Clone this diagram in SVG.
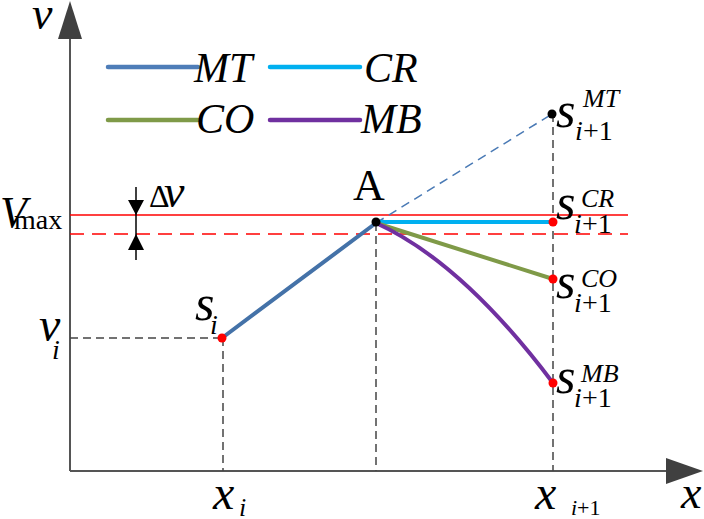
<svg xmlns="http://www.w3.org/2000/svg" width="704" height="519" viewBox="0 0 704 519">
<style>
.t{font-family:"Liberation Serif","Times New Roman",serif;fill:#000}
.it{font-style:italic}
.axis{stroke:#555;stroke-width:2;fill:none}
.guide{stroke:#444;stroke-width:1.5;stroke-dasharray:8 5;fill:none}
.leg{stroke-width:4.5;stroke-linecap:round;fill:none}
.data{stroke-width:4;fill:none;stroke-linecap:round}
.red{fill:#ff0000}
</style>
<rect width="704" height="519" fill="#fff"/>
<g id="axes">
  <line class="axis" x1="70" y1="471" x2="70" y2="36"/>
  <polygon points="70,1 58,39 82,39" fill="#404040"/>
  <line class="axis" x1="70" y1="471" x2="668" y2="471"/>
  <polygon points="703,471 666,458 666,484" fill="#404040"/>
  <text class="t it" x="32" y="29" font-size="46">v</text>
  <text class="t it" x="681" y="508" font-size="46">x</text>
</g>
<g id="legend">
  <line class="leg" x1="108" y1="67" x2="198" y2="67" stroke="#4e7db8"/>
  <text class="t it" x="194" y="82" font-size="42">MT</text>
  <line class="leg" x1="270" y1="67" x2="360" y2="67" stroke="#00b0f0"/>
  <text class="t it" x="364" y="82" font-size="42">CR</text>
  <line class="leg" x1="108" y1="120" x2="198" y2="120" stroke="#7f9a48"/>
  <text class="t it" x="196" y="133" font-size="42">CO</text>
  <line class="leg" x1="270" y1="120" x2="360" y2="120" stroke="#7030a0"/>
  <text class="t it" x="361" y="133" font-size="42">MB</text>
</g>
<g id="guides">
  <line class="guide" x1="70" y1="338" x2="222" y2="338"/>
  <line class="guide" x1="223" y1="338" x2="223" y2="471"/>
  <line class="guide" x1="376" y1="223" x2="376" y2="471"/>
  <line class="guide" x1="553" y1="114" x2="553" y2="471"/>
</g>
<g id="vmax">
  <line x1="70" y1="215" x2="628" y2="215" stroke="#ff0000" stroke-width="1.5"/>
  <line x1="70" y1="234" x2="628" y2="234" stroke="#ff0000" stroke-width="1.5" stroke-dasharray="14 8"/>
  <text class="t it" x="0" y="227" font-size="44">V</text>
  <text class="t" x="14" y="229" font-size="28">max</text>
</g>
<g id="deltav">
  <line x1="136" y1="187" x2="136" y2="260" stroke="#000" stroke-width="1.5"/>
  <polygon points="136,215 128,200 144,200" fill="#000"/>
  <polygon points="136,234 128,250 144,250" fill="#000"/>
  <text class="t" x="149" y="207" font-size="32">Δ</text>
  <text class="t it" x="164" y="207" font-size="46">v</text>
</g>
<g id="connectors">
  <line class="data" x1="222" y1="338" x2="376" y2="223" stroke="#4472a8"/>
  <line x1="376" y1="223" x2="552" y2="114" stroke="#4a7ab5" stroke-width="1.5" stroke-dasharray="9 6"/>
  <line class="data" x1="376" y1="222" x2="553" y2="222" stroke="#00b0f0"/>
  <line class="data" x1="376" y1="223" x2="553" y2="279" stroke="#7f9a48"/>
  <path class="data" d="M376,223 Q462,262 553,383" stroke="#7030a0"/>
</g>
<g id="node-si">
  <circle cx="222" cy="338" r="4.5" class="red"/>
  <text class="t it" x="195" y="320" font-size="50">s</text>
  <text class="t it" x="210" y="334" font-size="28">i</text>
</g>
<g id="node-vi">
  <text class="t it" x="39" y="341" font-size="48">v</text>
  <text class="t it" x="52" y="359" font-size="28">i</text>
</g>
<g id="node-A">
  <circle cx="376" cy="222" r="4.5" fill="#000"/>
  <text class="t" x="353" y="200" font-size="44">A</text>
</g>
<g id="node-MT">
  <circle cx="552" cy="114" r="4.5" fill="#000"/>
  <text class="t it" x="556" y="127" font-size="50">s</text>
  <text class="t it" x="583" y="107" font-size="26">MT</text>
  <text class="t it" x="575" y="140" font-size="28">i</text>
  <text class="t" x="583" y="140" font-size="28">+1</text>
</g>
<g id="node-CR">
  <circle cx="553" cy="222" r="4.5" class="red"/>
  <text class="t it" x="556" y="219" font-size="50">s</text>
  <text class="t it" x="581" y="207" font-size="26">CR</text>
  <text class="t it" x="574" y="233" font-size="28">i</text>
  <text class="t" x="582" y="233" font-size="28">+1</text>
</g>
<g id="node-CO">
  <circle cx="553" cy="279" r="4.5" class="red"/>
  <text class="t it" x="556" y="298" font-size="50">s</text>
  <text class="t it" x="581" y="287" font-size="26">CO</text>
  <text class="t it" x="574" y="312" font-size="28">i</text>
  <text class="t" x="582" y="312" font-size="28">+1</text>
</g>
<g id="node-MB">
  <circle cx="553" cy="383" r="4.5" class="red"/>
  <text class="t it" x="556" y="393" font-size="50">s</text>
  <text class="t it" x="581" y="382" font-size="26">MB</text>
  <text class="t it" x="574" y="407" font-size="28">i</text>
  <text class="t" x="582" y="407" font-size="28">+1</text>
</g>
<g id="xlabels">
  <text class="t it" x="213" y="509" font-size="48">x</text>
  <text class="t it" x="239" y="516" font-size="26">i</text>
  <text class="t it" x="535" y="509" font-size="48">x</text>
  <text class="t it" x="571" y="515" font-size="22">i</text>
  <text class="t" x="577" y="515" font-size="22">+1</text>
</g>
</svg>
